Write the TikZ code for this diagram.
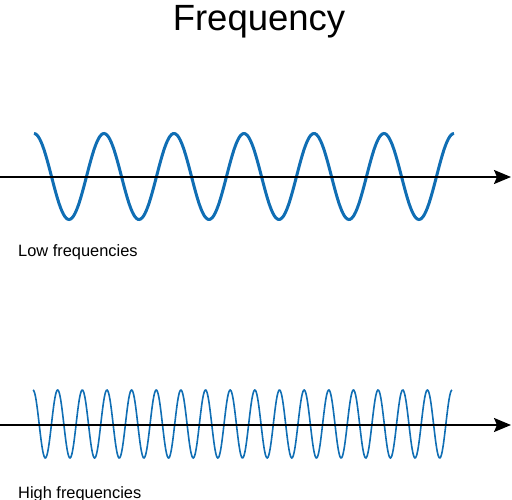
\documentclass[tikz,border=0pt]{standalone}
\usepackage{fontspec}
\setmainfont{Liberation Sans}
\usepackage{tikz}
\usetikzlibrary{arrows.meta, positioning}
\definecolor{wavecolor}{RGB}{16,110,180}
\tikzset{
    axisline/.style={draw=black, line width=2pt},
    lowwave/.style={draw=wavecolor, line width=3pt},
    highwave/.style={draw=wavecolor, line width=1.6pt},
    titlenode/.style={inner sep=0pt, anchor=base, font=\fontsize{36.5}{40}\selectfont},
    labelnode/.style={inner sep=0pt, anchor=base west, font=\fontsize{16.4}{18}\selectfont}
}

\begin{document}
\begin{tikzpicture}[x=1pt, y=-1pt, >={Stealth[length=17pt, width=14pt, inset=3pt]}]
\useasboundingbox (0,0) rectangle (512,500);
\node[titlenode] (title) at (259,31) {Frequency};
% low frequency wave
\coordinate (lowstart) at (0,177);
\coordinate (lowend) at (511,177);
\draw[lowwave] plot[domain=34:454, samples=300, smooth] (\x,{176.5-43*cos(((\x-34)/70)*360)});
\draw[axisline, ->] (lowstart) -- (lowend);
\node[labelnode] (lowlabel) at (18,256) {Low frequencies};
% high frequency wave
\coordinate (highstart) at (0,425);
\coordinate (highend) at (511,425);
\draw[highwave] plot[domain=33:452, samples=600, smooth] (\x,{424-34*cos(((\x-33)/24.65)*360)});
\draw[axisline, ->] (highstart) -- (highend);
\node[labelnode] (highlabel) at (18,498) {High frequencies};
\end{tikzpicture}
\end{document}
